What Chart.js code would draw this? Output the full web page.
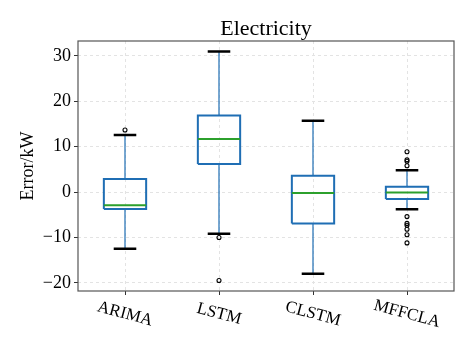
<!DOCTYPE html>
<html>
<head>
<meta charset="utf-8">
<script src="https://cdn.jsdelivr.net/npm/chart.js@4.4.1/dist/chart.umd.min.js"></script>
<style>
  html, body { margin:0; padding:0; background:#fff; }
  #wrap { width:474px; height:352px; position:relative; }
</style>
</head>
<body>
<div id="wrap"><canvas id="chart"></canvas></div>
<script>
// ===============================
// Datos
// ===============================
const categories  = ["ARIMA", "LSTM", "CLSTM", "MFFCLA"];
const whiskerLow  = [-12.5, -9.2, -18.0, -3.8];
const q1          = [-3.7,   6.2,  -6.9, -1.5];
const medians     = [-2.9,  11.7,  -0.2, -0.1];
const q3          = [ 2.9,  16.9,   3.6,  1.2];
const whiskerHigh = [12.6,  31.0,  15.7,  4.8];
const outliers    = [
  [13.7],
  [-10.0, -19.5],
  [],
  [8.9, 7.1, 6.8, 5.8, -5.4, -6.9, -7.3, -8.2, -9.4, -11.2]
];
const yTicks = [-20, -10, 0, 10, 20, 30];

const TITLE  = "Electricity";
const YLABEL = "Error/kW";
const SERIF  = "'Liberation Serif', 'Times New Roman', serif";

// Estilo
const BOX_HALF = 0.225;   // semiancho de la caja (unidades de categoría)
const CAP_HALF = 0.12;
const BLUE  = "#1f6eb4";
const GREEN = "#2ca02c";

// ===============================
// Construcción de segmentos (x = índice de categoría + 1)
// ===============================
const GAP = i => ({ x: i + 1, y: null });
const boxPts = [], medPts = [], whiskPts = [], capPts = [], fliers = [];
categories.forEach((_, i) => {
  const x = i + 1;
  boxPts.push({x:x-BOX_HALF,y:q1[i]},{x:x+BOX_HALF,y:q1[i]},{x:x+BOX_HALF,y:q3[i]},
              {x:x-BOX_HALF,y:q3[i]},{x:x-BOX_HALF,y:q1[i]}, GAP(i));
  medPts.push({x:x-BOX_HALF,y:medians[i]},{x:x+BOX_HALF,y:medians[i]}, GAP(i));
  whiskPts.push({x,y:q3[i]},{x,y:whiskerHigh[i]}, GAP(i), {x,y:q1[i]},{x,y:whiskerLow[i]}, GAP(i));
  capPts.push({x:x-CAP_HALF,y:whiskerHigh[i]},{x:x+CAP_HALF,y:whiskerHigh[i]}, GAP(i),
              {x:x-CAP_HALF,y:whiskerLow[i]},{x:x+CAP_HALF,y:whiskerLow[i]}, GAP(i));
  outliers[i].forEach(v => fliers.push({ x, y: v }));
});

const seg = (data, color, width) => ({
  type: "line", data, borderColor: color, borderWidth: width,
  pointRadius: 0, spanGaps: false, fill: false, tension: 0,
  borderCapStyle: "butt", borderJoinStyle: "miter"
});

// ===============================
// Plugin: marco, título, etiquetas
// ===============================
const decor = {
  id: "decor",
  afterDraw(chart) {
    const { ctx, chartArea: a, scales } = chart;
    ctx.save();
    // marco
    ctx.strokeStyle = "#555"; ctx.lineWidth = 1.2;
    ctx.strokeRect(a.left, a.top, a.right - a.left, a.bottom - a.top);
    ctx.fillStyle = "#000";
    // título
    ctx.font = `22px ${SERIF}`;
    ctx.textAlign = "center"; ctx.textBaseline = "alphabetic";
    ctx.fillText(TITLE, (a.left + a.right) / 2, 35);
    // etiqueta eje y
    ctx.save();
    ctx.translate(33, (a.top + a.bottom) / 2);
    ctx.rotate(-Math.PI / 2);
    ctx.font = `18px ${SERIF}`;
    ctx.fillText(YLABEL, 0, 0);
    ctx.restore();
    // etiquetas eje x (giradas 15° en sentido horario)
    ctx.font = `17px ${SERIF}`;
    ctx.textBaseline = "middle";
    categories.forEach((c, i) => {
      const px = scales.x.getPixelForValue(i + 1);
      ctx.save();
      ctx.translate(px, a.bottom + 23);
      ctx.rotate(15 * Math.PI / 180);
      ctx.fillText(c, 0, 0);
      ctx.restore();
    });
    ctx.restore();
  }
};

new Chart(document.getElementById("chart"), {
  type: "scatter",
  data: {
    datasets: [
      seg(medPts, GREEN, 2),
      seg(boxPts, BLUE, 2),
      seg(capPts, "#000", 2.5),
      seg(whiskPts, BLUE, 1.2),
      { type: "scatter", data: fliers, pointRadius: 2, pointBorderWidth: 1.1,
        pointBorderColor: "#000", pointBackgroundColor: "rgba(0,0,0,0)", pointStyle: "circle" }
    ]
  },
  options: {
    responsive: true,
    maintainAspectRatio: false,
    animation: false,
    layout: { padding: { top: 41, right: 20, left: 0, bottom: 0 } },
    plugins: { legend: { display: false }, tooltip: { enabled: false }, title: { display: false } },
    scales: {
      x: {
        type: "linear", min: 0.5, max: 4.5,
        afterBuildTicks: s => { s.ticks = categories.map((_, i) => ({ value: i + 1 })); },
        afterFit: s => { s.height = 61; },
        ticks: { callback: () => "", padding: 0 },
        grid: { color: "#e3e3e3", tickColor: "#333", tickLength: 4, tickBorderDash: [], lineWidth: 1 },
        border: { display: false, dash: [3, 3] }
      },
      y: {
        min: -21.8, max: 33.3,
        afterBuildTicks: s => { s.ticks = yTicks.map(v => ({ value: v })); },
        afterFit: s => { s.width = 78; },
        ticks: {
          color: "#000", padding: 3,
          font: { family: SERIF, size: 18 },
          callback: v => String(v).replace("-", "\u2212")
        },
        grid: { color: "#e3e3e3", tickColor: "#333", tickLength: 4, tickBorderDash: [], lineWidth: 1 },
        border: { display: false, dash: [3, 3] }
      }
    }
  },
  plugins: [decor]
});
</script>
</body>
</html>
